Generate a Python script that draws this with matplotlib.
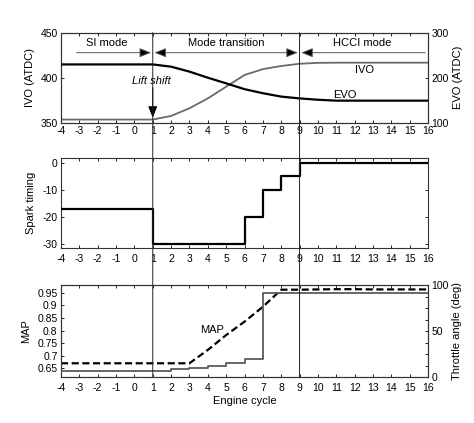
import matplotlib
matplotlib.use('Agg')
import matplotlib.pyplot as plt
from matplotlib.patches import ConnectionPatch
from matplotlib.ticker import FuncFormatter, MultipleLocator

plt.rcParams['font.family'] = ['Liberation Sans', 'DejaVu Sans']
plt.rcParams['font.size'] = 7.5
plt.rcParams['axes.unicode_minus'] = False

# ---------------- data ----------------
cycles = list(range(-4, 17))
ivo = [353.5] * 6 + [357.5, 366, 377, 390, 403, 409.5, 413, 415.5, 416.5,
                     416.7, 416.7, 416.7, 416.7, 416.7, 416.7]
evo = [229.5] * 6 + [224.5, 213.5, 200, 187.5, 174.5, 165.5, 158, 154, 151,
                     149, 149, 149, 149, 149, 149]

spark_x = [-4, 1, 6, 7, 8, 9, 16]
spark = [-17, -30, -20, -10, -5, 0, 0]

map_vals = [0.67] * 8 + [0.723, 0.782, 0.835, 0.894, 0.962,
                         0.962, 0.963, 0.964, 0.964, 0.963, 0.963, 0.963, 0.963]
throttle = [6.5] * 6 + [8.4, 10.2, 12, 15.3, 19.3] + [91.6] * 10

xticks = list(range(-4, 17))
transitions = [1, 9]
mode_labels = ['SI mode', 'Mode transition', 'HCCI mode']

# ---------------- figure ----------------
fig = plt.figure(figsize=(4.74, 4.23), dpi=100)
L, W = 61 / 474, 367 / 474
ax1 = fig.add_axes([L, 1 - 122.7 / 423, W, 90 / 423])
ax2 = fig.add_axes([L, 1 - 248.3 / 423, W, 90 / 423])
ax3 = fig.add_axes([L, 1 - 377 / 423, W, 92 / 423])
ax1r = ax1.twinx()
ax3r = ax3.twinx()

spine_c = '#333333'
for a in (ax1, ax2, ax3, ax1r, ax3r):
    for s in a.spines.values():
        s.set_color(spine_c)
        s.set_linewidth(0.8)
    a.tick_params(direction='in', length=2.3, width=0.6, pad=2.5,
                  labelsize=7.5, colors='black')
    a.tick_params(which='minor', direction='in', length=2.0, width=0.6)

for a in (ax1, ax2, ax3):
    a.set_xlim(-4, 16)
    a.set_xticks(xticks)
    a.tick_params(top=True)
ax2.tick_params(axis='x', pad=4.0)
ax3.tick_params(axis='x', pad=4.5)

# ---- top panel ----
ax1.set_ylim(350, 450)
ax1.set_yticks([350, 400, 450])
ax1r.set_ylim(100, 300)
ax1r.set_yticks([100, 200, 300])
ax1.plot(cycles, ivo, color='#6a6a6a', lw=1.3, zorder=3)
ax1r.plot(cycles, evo, color='black', lw=1.6, zorder=3)
ax1.set_ylabel('IVO (ATDC)', fontsize=8)
ax1.yaxis.set_label_coords(-0.072, 0.5)
ax1r.set_ylabel('EVO (ATDC)', fontsize=8)
ax1r.yaxis.set_label_coords(1.068, 0.5)

ya = 427.8
arr = dict(arrowstyle='-|>,head_length=0.7,head_width=0.28', ec='#555555',
           fc='black', lw=0.7, shrinkA=0, shrinkB=1.2, mutation_scale=10)
ax1.annotate('', xy=(1, ya), xytext=(-3.15, ya), arrowprops=arr)
arr2 = dict(arr)
arr2['arrowstyle'] = '<|-|>,head_length=0.7,head_width=0.28'
arr2['shrinkA'] = 1.2
ax1.annotate('', xy=(9, ya), xytext=(1, ya), arrowprops=arr2)
ax1.annotate('', xy=(9, ya), xytext=(15.85, ya), arrowprops=arr)
ax1.text(-1.48, 438.9, mode_labels[0], ha='center', va='center', fontsize=8)
ax1.text(5.03, 438.9, mode_labels[1], ha='center', va='center', fontsize=8)
ax1.text(12.44, 438.9, mode_labels[2], ha='center', va='center', fontsize=8)
ax1.text(0.95, 396, 'Lift shift', ha='center', va='center', fontsize=8,
         style='italic')
ax1.annotate('', xy=(1, 355.5), xytext=(1, 389),
             arrowprops=dict(arrowstyle='-|>,head_length=0.7,head_width=0.28',
                             color='black', lw=0.7, shrinkA=0, shrinkB=0,
                             mutation_scale=10))
ax1.text(12.55, 408.6, 'IVO', ha='center', va='center', fontsize=8)
ax1.text(11.44, 380.8, 'EVO', ha='center', va='center', fontsize=8)

# ---- middle panel ----
ax2.set_ylim(-31.5, 1.6)
ax2.set_yticks([-30, -20, -10, 0])
ax2.tick_params(right=True)
ax2.plot(spark_x, spark, color='black', lw=1.6, drawstyle='steps-post', zorder=3)
ax2.set_ylabel('Spark timing', fontsize=8)
ax2.yaxis.set_label_coords(-0.069, 0.5)

# ---- bottom panel ----
ax3.set_ylim(0.6155, 0.9806)
ax3.set_yticks([0.65, 0.7, 0.75, 0.8, 0.85, 0.9, 0.95])
ax3.yaxis.set_major_formatter(FuncFormatter(lambda v, p: f'{round(v, 2):g}'))
ax3r.set_ylim(0, 100)
ax3r.set_yticks([0, 50, 100])
ax3r.yaxis.set_minor_locator(MultipleLocator(12.5))
ax3.plot(cycles, map_vals, color='black', lw=1.6, ls=(0, (3.2, 1.6)), zorder=3)
ax3r.plot(cycles, throttle, color='#5a5a5a', lw=1.3, drawstyle='steps-post',
          zorder=3)
ax3.text(4.21, 0.802, 'MAP', ha='center', va='center', fontsize=8)
ax3.set_ylabel('MAP', fontsize=8)
ax3.yaxis.set_label_coords(-0.082, 0.5)
ax3r.set_ylabel('Throttle angle (deg)', fontsize=8)
ax3r.yaxis.set_label_coords(1.065, 0.5)
ax3.set_xlabel('Engine cycle', fontsize=8, labelpad=2)

# ---- vertical transition lines across all panels ----
for xv in transitions:
    cp = ConnectionPatch(xyA=(xv, 450), coordsA=ax1.transData,
                         xyB=(xv, 0.6155), coordsB=ax3.transData,
                         color='#222222', lw=0.7, zorder=5)
    fig.add_artist(cp)

fig.savefig('out.png', dpi=100)
